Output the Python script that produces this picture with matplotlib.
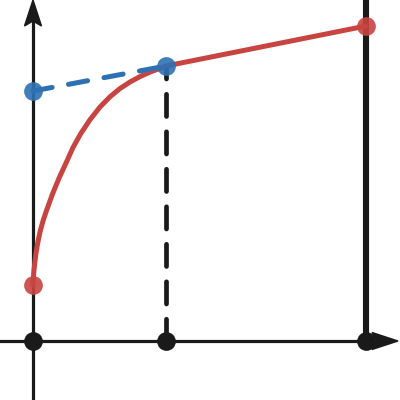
import matplotlib
matplotlib.use('Agg')
import matplotlib.pyplot as plt
from matplotlib.patches import Polygon

plt.rcParams['lines.scale_dashes'] = False

red = '#c74440'
blue = '#2d70b3'
dark = '#1a1a1a'

# data in screen-like units, origin at the axes crossing
curve_x = [0, 0.5, 1, 2, 3, 4, 5.5, 7.5, 10, 13, 19.5, 26.3, 33.7, 40,
           47.5, 57, 67, 77, 87, 97, 107, 117, 127, 133]
curve_y = [56, 65, 71, 80, 88, 94, 102, 111, 120, 129, 147, 163.5, 179.5, 193.5,
           207, 221.3, 234, 244.2, 252.5, 259, 264.4, 268.9, 272.7, 275]
line_x = [133, 333]
line_y = [275, 315]
blue_x = [0, 133]
blue_y = [250, 275]
red_pts_x = [0, 333]
red_pts_y = [56, 315]
black_pts_x = [0, 133, 333]
black_pts_y = [0, 0, 0]
x_mid = 133
x_right = 333

fig = plt.figure(figsize=(4, 4), dpi=100)
ax = fig.add_axes([0, 0, 1, 1])
ax.set_xlim(-33, 367)
ax.set_ylim(-59, 341)
ax.axis('off')

# axes with arrow heads
ax.plot([-33, 345], [0, 0], color=dark, lw=2.3, zorder=1)
ax.plot([0, 0], [-59, 320], color=dark, lw=2.3, zorder=1)
ax.add_patch(Polygon([[365, 0], [339, 8.5], [344, 0], [339, -8.5]], closed=True,
                     color=dark, zorder=1))
ax.add_patch(Polygon([[0, 341], [8.5, 315], [0, 320], [-8.5, 315]], closed=True,
                     color=dark, zorder=1))

# thick right wall
ax.plot([x_right, x_right], [0, 345], color=dark, lw=4.4, zorder=2)

# dashed vertical
ax.plot([x_mid, x_mid], [0, line_y[0]], color=dark, lw=3.4,
        dashes=(16, 11), dash_capstyle='round', zorder=2)

# red curve + line
ax.plot(curve_x + line_x[1:], curve_y + line_y[1:], color=red, lw=3.6,
        solid_capstyle='round', solid_joinstyle='round', zorder=3)

# blue dashed
ax.plot(blue_x, blue_y, color=blue, lw=3.6, dashes=(14, 12),
        dash_capstyle='round', zorder=4)

# points
ax.plot(red_pts_x, red_pts_y, 'o', color=red, ms=13.5, alpha=0.9, mew=0, zorder=5)
ax.plot(blue_x, blue_y, 'o', color=blue, ms=13.5, alpha=0.9, mew=0, zorder=5)
ax.plot(black_pts_x, black_pts_y, 'o', color=dark, ms=13.5, mew=0, zorder=5)

fig.savefig('out.png', dpi=100, facecolor='white')
